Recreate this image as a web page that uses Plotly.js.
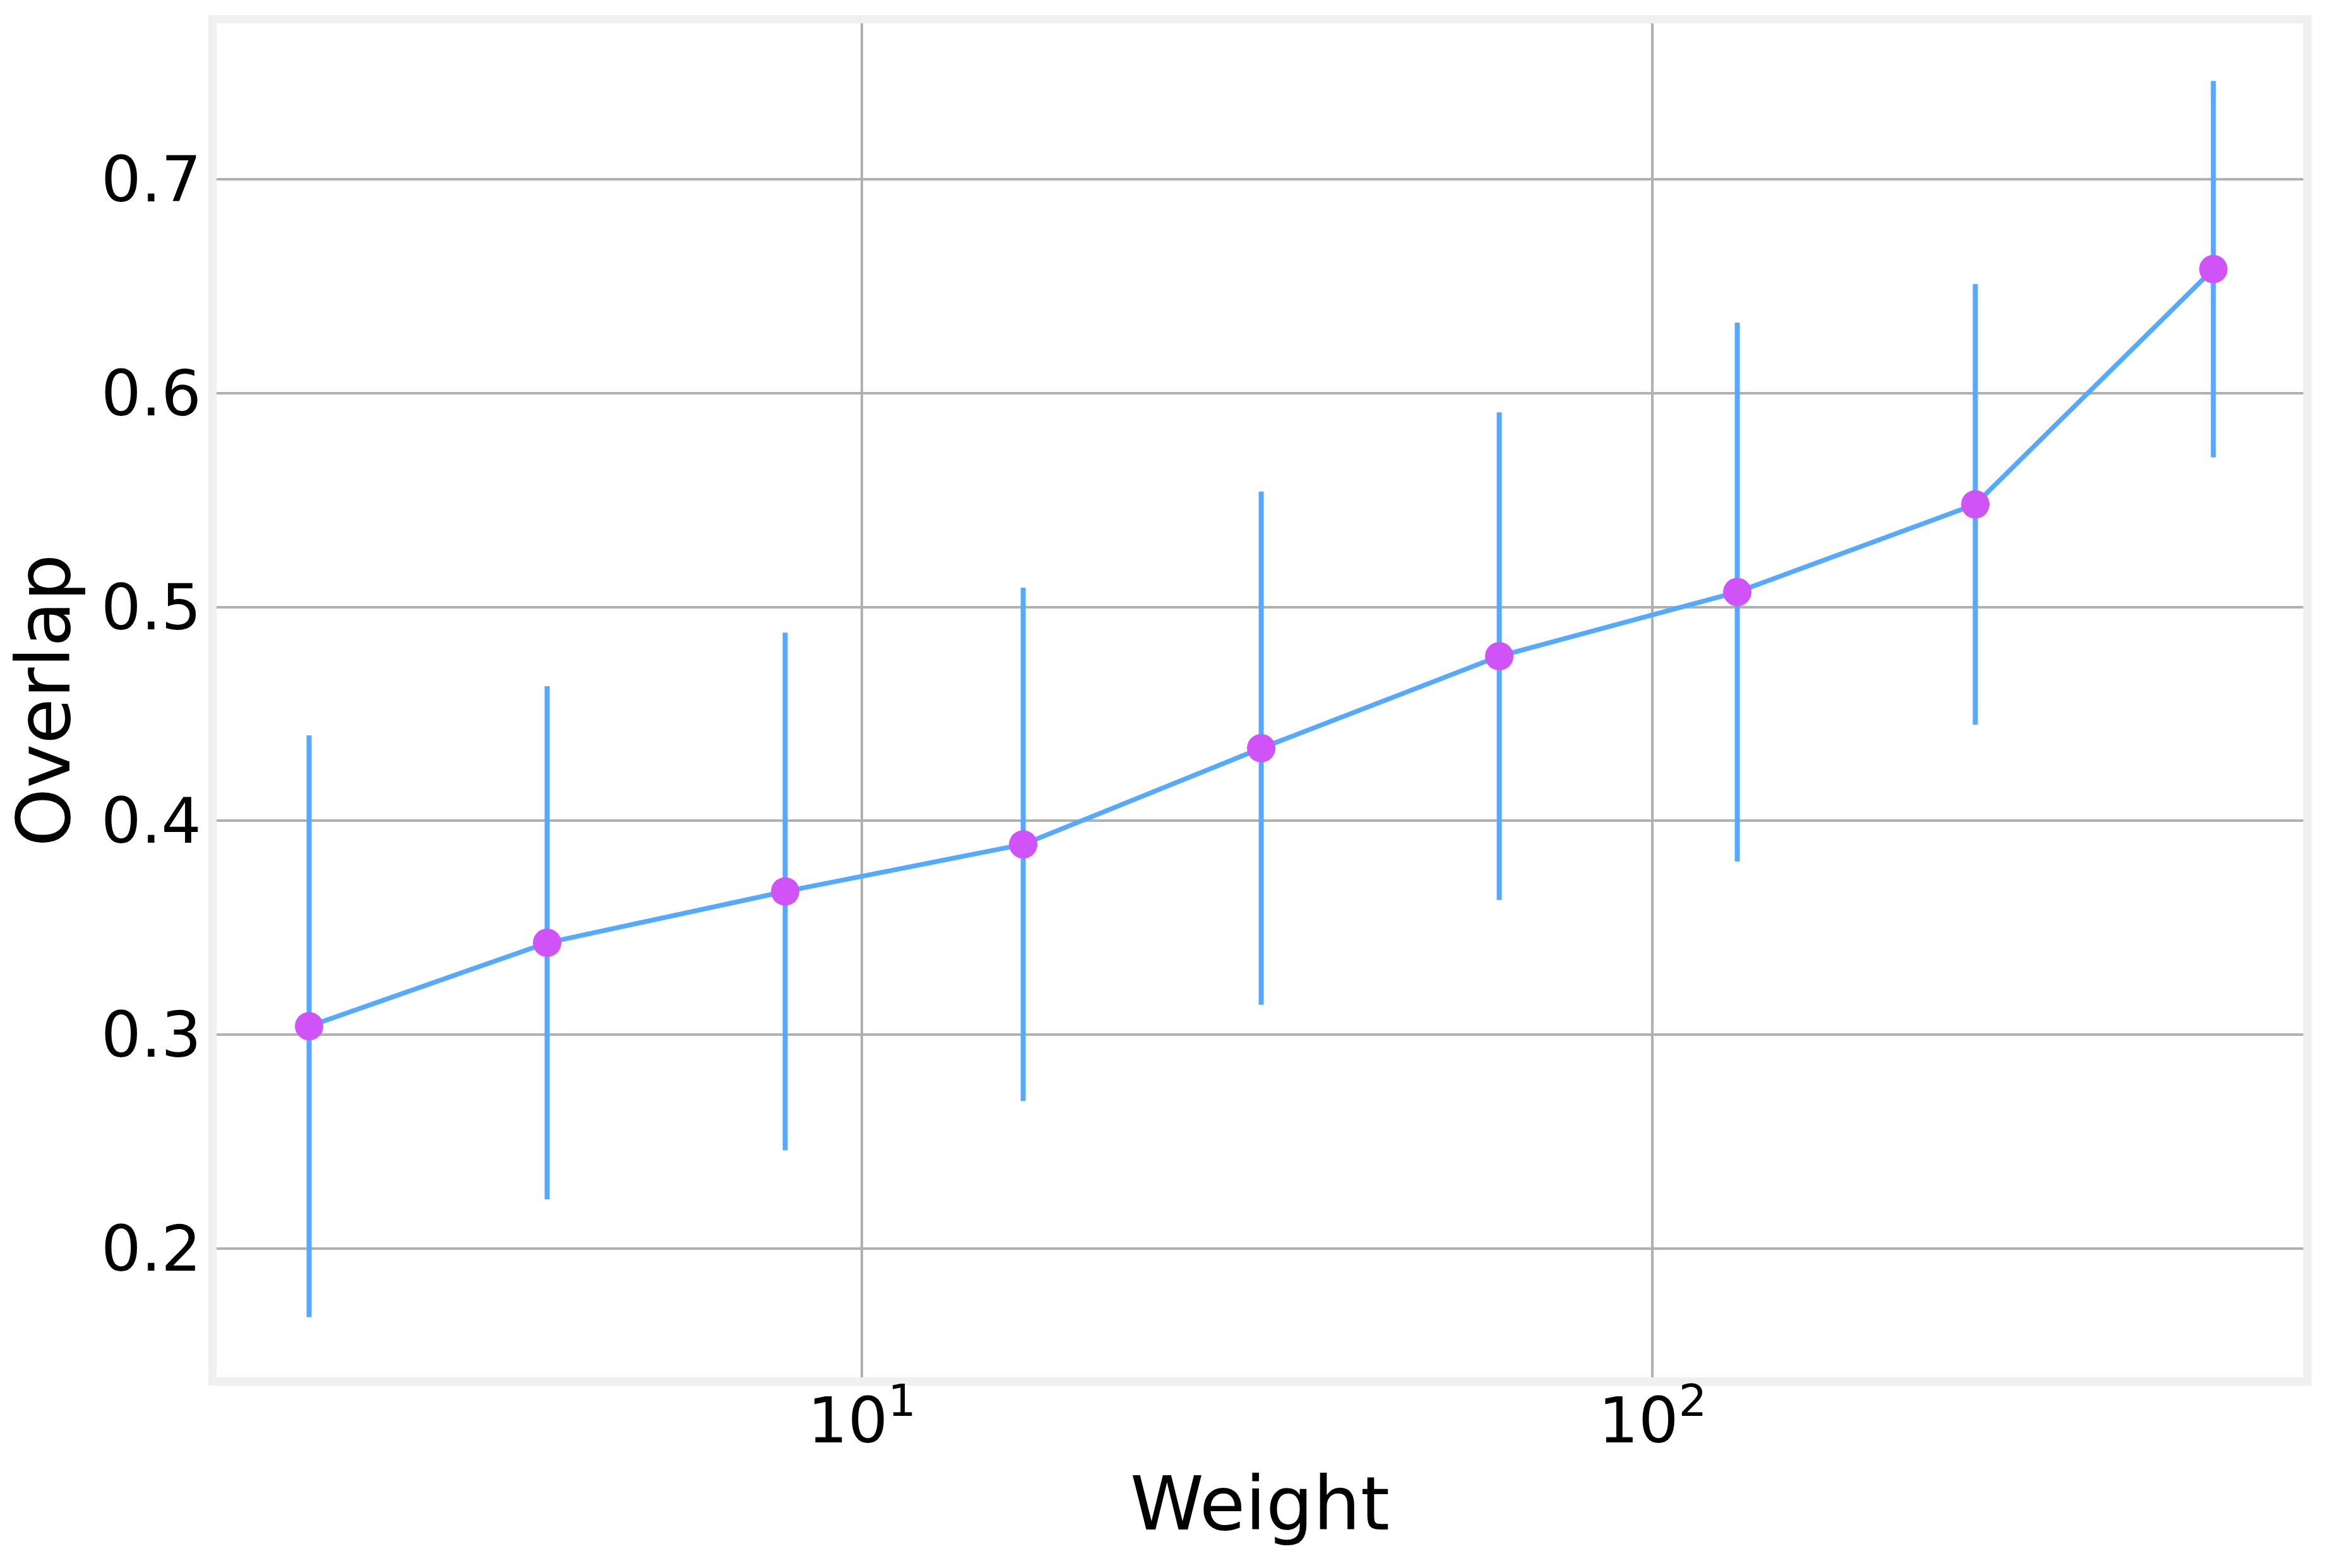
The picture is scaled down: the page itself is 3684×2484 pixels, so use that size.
<!DOCTYPE html>
<html>
<head>
<meta charset="utf-8">
<script src="https://cdn.plot.ly/plotly-3.0.1.min.js"></script>
<style>html,body{margin:0;padding:0;background:#fff;}#chart{width:3684px;height:2484px;}</style>
</head>
<body>
<div id="chart"></div>
<script>
const weights = [2, 4, 8, 16, 32, 64, 128, 256, 512];
const overlap = [0.304, 0.343, 0.367, 0.389, 0.434, 0.477, 0.507, 0.548, 0.658];
const errors = [0.136, 0.120, 0.121, 0.120, 0.120, 0.114, 0.126, 0.103, 0.088];
const xTickVals = [10, 100];
const xTickText = ['10<sup>1</sup>', '10<sup>2</sup>'];
const xTitle = 'Weight';
const yTitle = 'Overlap';

const trace = {
  x: weights,
  y: overlap,
  type: 'scatter',
  mode: 'lines+markers',
  line: {color: '#55aaff', width: 7.5},
  marker: {color: '#d053f8', size: 45},
  error_y: {type: 'data', array: errors, visible: true, color: '#55aaff', thickness: 8, width: 0},
  showlegend: false
};

const font = 'DejaVu Sans, sans-serif';
const layout = {
  width: 3684,
  height: 2484,
  margin: {l: 343, r: 36, t: 37, b: 302, pad: 0},
  paper_bgcolor: '#ffffff',
  plot_bgcolor: '#ffffff',
  font: {family: font, color: '#000000', size: 100},
  xaxis: {
    type: 'log',
    range: [0.184, 2.823],
    tickmode: 'array',
    tickvals: xTickVals,
    ticktext: xTickText,
    showgrid: true,
    gridcolor: '#b0b0b0',
    gridwidth: 4,
    ticks: '',
    showline: true,
    mirror: true,
    linecolor: '#f0f0f0',
    linewidth: 13,
    zeroline: false,
    tickfont: {family: font, size: 100, color: '#000'},
    ticklabelstandoff: -30,
    title: {text: xTitle, font: {family: font, size: 118, color: '#000'}, standoff: 38},
    automargin: false
  },
  yaxis: {
    range: [0.1398, 0.7729],
    dtick: 0.1,
    tick0: 0,
    tickformat: '.1f',
    showgrid: true,
    gridcolor: '#b0b0b0',
    gridwidth: 4,
    ticks: '',
    showline: true,
    mirror: true,
    linecolor: '#f0f0f0',
    linewidth: 13,
    zeroline: false,
    tickfont: {family: font, size: 100, color: '#000'},
    ticklabelstandoff: -9,
    title: {text: yTitle, font: {family: font, size: 118, color: '#000'}, standoff: -20},
    automargin: false
  }
};

Plotly.newPlot('chart', [trace], layout, {displayModeBar: false, staticPlot: true});
</script>
</body>
</html>
